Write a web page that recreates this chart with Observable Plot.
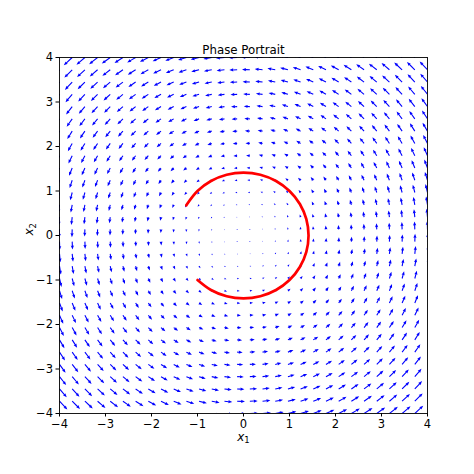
<!DOCTYPE html>
<html>
<head>
<meta charset="utf-8">
<script src="https://cdn.jsdelivr.net/npm/d3@7"></script>
<script src="https://cdn.jsdelivr.net/npm/@observablehq/plot@0.6"></script>
<style>
  html, body { margin: 0; padding: 0; background: #fff; }
  #chart { width: 474px; height: 474px; }
</style>
</head>
<body>
<div id="chart"></div>
<script>
// ---- data ----
const titleText = "Phase Portrait";
const xLabel = "x₁";
const yLabel = "x₂";

// 30 x 30 grid of arrow tails
const gridX = [-4, -3.724, -3.448, -3.172, -2.897, -2.621, -2.345, -2.069, -1.793, -1.517,
  -1.241, -0.966, -0.690, -0.414, -0.138, 0.138, 0.414, 0.690, 0.966, 1.241,
  1.517, 1.793, 2.069, 2.345, 2.621, 2.897, 3.172, 3.448, 3.724, 4];
const gridY = [-4, -3.724, -3.448, -3.172, -2.897, -2.621, -2.345, -2.069, -1.793, -1.517,
  -1.241, -0.966, -0.690, -0.414, -0.138, 0.138, 0.414, 0.690, 0.966, 1.241,
  1.517, 1.793, 2.069, 2.345, 2.621, 2.897, 3.172, 3.448, 3.724, 4];
// horizontal component per row (dx1/dt), vertical component per column (dx2/dt)
const uByRow = [4, 3.724, 3.448, 3.172, 2.897, 2.621, 2.345, 2.069, 1.793, 1.517,
  1.241, 0.966, 0.690, 0.414, 0.138, -0.138, -0.414, -0.690, -0.966, -1.241,
  -1.517, -1.793, -2.069, -2.345, -2.621, -2.897, -3.172, -3.448, -3.724, -4];
const vByCol = [-4, -3.724, -3.448, -3.172, -2.897, -2.621, -2.345, -2.069, -1.793, -1.517,
  -1.241, -0.966, -0.690, -0.414, -0.138, 0.138, 0.414, 0.690, 0.966, 1.241,
  1.517, 1.793, 2.069, 2.345, 2.621, 2.897, 3.172, 3.448, 3.724, 4];

// red trajectory
const trajX1 = [-1, -0.707, -0.366, 0, 0.366, 0.707, 1, 1.225, 1.366, 1.414,
  1.366, 1.225, 1, 0.707, 0.366, 0, -0.366, -0.707, -1, -1.225, -1.243];
const trajX2 = [-1, -1.225, -1.366, -1.414, -1.366, -1.225, -1, -0.707, -0.366, 0,
  0.366, 0.707, 1, 1.225, 1.366, 1.414, 1.366, 1.225, 1, 0.707, 0.675];

const xTicks = [-4, -3, -2, -1, 0, 1, 2, 3, 4];
const xTickLabels = ["−4", "−3", "−2", "−1", "0", "1", "2", "3", "4"];
const yTicks = [-4, -3, -2, -1, 0, 1, 2, 3, 4];
const yTickLabels = ["−4", "−3", "−2", "−1", "0", "1", "2", "3", "4"];

// ---- build tables ----
const field = [];
gridY.forEach((y, i) => gridX.forEach((x, j) => {
  field.push({x, y, u: uByRow[i], v: vByCol[j]});
}));
const traj = trajX1.map((x, i) => ({x, y: trajX2[i]}));

const pxPerUnit = 2.1; // quiver autoscale
const W = 1.1, HW = 1.6, HL = 4.0, HAL = 3.6, MINLEN = 0.8;
const quiverShape = {
  draw(ctx, l) {
    if (l < MINLEN) {
      const r = 0.45;
      ctx.moveTo(r, 0);
      ctx.arc(0, 0, r, 0, 2 * Math.PI);
      return;
    }
    let s = 1, L = l;
    if (l < HL) { s = l / HL; L = HL; }
    const pts = [
      [-W / 2, 0], [-W / 2, -(L - HAL)], [-HW, -(L - HL)], [0, -L],
      [HW, -(L - HL)], [W / 2, -(L - HAL)], [W / 2, 0]
    ];
    pts.forEach(([a, b], k) => k ? ctx.lineTo(a * s, b * s) : ctx.moveTo(a * s, b * s));
    ctx.closePath();
  }
};

const fontFamily = "DejaVu Sans, sans-serif";

const plot = Plot.plot({
  width: 474,
  height: 474,
  marginLeft: 59,
  marginRight: 47,
  marginTop: 57,
  marginBottom: 61,
  style: {fontFamily, background: "#fff", color: "#000"},
  x: {domain: [-4, 4]},
  y: {domain: [-4, 4]},
  length: {type: "identity"},
  marks: [
    Plot.vector(field, {
      x: "x", y: "y",
      length: d => Math.hypot(d.u, d.v) * pxPerUnit,
      rotate: d => Math.atan2(d.u, d.v) * 180 / Math.PI,
      anchor: "start",
      shape: quiverShape,
      fill: "#0000ff",
      stroke: "none",
      strokeWidth: 0,
      clip: true
    }),
    Plot.line(traj, {x: "x", y: "y", stroke: "#ff0000", strokeWidth: 2.7, curve: "catmull-rom", clip: true}),
    Plot.frame({stroke: "#000", strokeWidth: 0.9}),
    Plot.axisX({ticks: xTicks, tickFormat: d => xTickLabels[xTicks.indexOf(d)], tickSize: 3.5, tickPadding: 3, fontSize: 11.5, label: null}),
    Plot.axisY({ticks: yTicks, tickFormat: d => yTickLabels[yTicks.indexOf(d)], tickSize: 3.5, tickPadding: 3, fontSize: 11.5, label: null}),
    Plot.text([titleText], {frameAnchor: "top", dy: -12, text: d => d, fontSize: 11.8, fill: "#000"}),
    Plot.text([xLabel], {frameAnchor: "bottom", dy: 27, text: d => d, fontSize: 12, fill: "#000"}),
    Plot.text([yLabel], {frameAnchor: "left", dx: -30, rotate: -90, text: d => d, fontSize: 12, fill: "#000"})
  ]
});

// style axis labels like math text: italic x with upright subscript digit
d3.select(plot).selectAll("text").each(function () {
  const t = this.textContent;
  if (t === xLabel || t === yLabel) {
    const sub = t === xLabel ? "1" : "2";
    const sel = d3.select(this);
    sel.text(null);
    sel.append("tspan").attr("font-style", "italic").text("x");
    sel.append("tspan").attr("font-size", "8.5").attr("dy", "2.5").text(sub);
  }
});

document.getElementById("chart").appendChild(plot);
</script>
</body>
</html>
